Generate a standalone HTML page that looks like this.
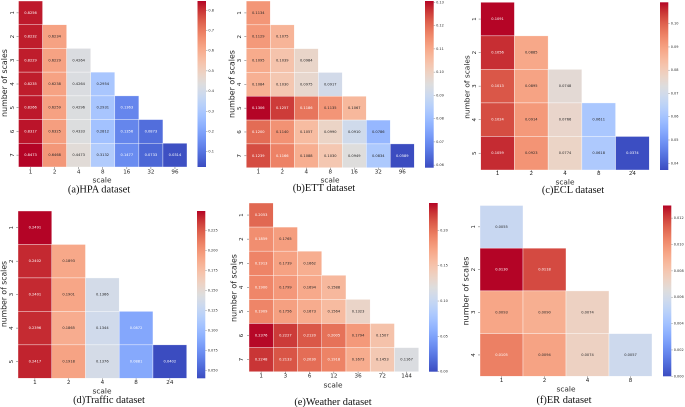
<!DOCTYPE html>
<html lang="en">
<head>
<meta charset="utf-8">
<title>Heatmaps of scale combinations</title>
<style>
html,body{margin:0;padding:0;width:685px;height:407px;overflow:hidden;background:#fff}
svg{display:block;filter:blur(0.3px)}
text{font-family:"DejaVu Sans","Liberation Sans",sans-serif}
.cap{font-family:"Liberation Serif",serif;fill:#111}
</style>
</head>
<body>
<svg id="fig" xmlns="http://www.w3.org/2000/svg" width="685" height="407" viewBox="0 0 685 407"></svg>
<script>
const hpaScales = ["1","2","4","8","16","32","96"];
const hpaRows = ["1","2","3","4","5","6","7"];
const hpaValues = [[0.8256],[0.8232,0.6234],[0.8229,0.6229,0.4264],[0.8235,0.6238,0.4264,0.2954],[0.8266,0.6259,0.4296,0.2931,0.1363],[0.8317,0.6325,0.4333,0.2812,0.1356,0.0873],[0.8473,0.6468,0.4473,0.3132,0.1477,0.0733,0.0314]];
const hpaTicks = [0.1,0.2,0.3,0.4,0.5,0.6,0.7,0.8];

const ettScales = ["1","2","4","8","16","32","96"];
const ettRows = ["1","2","3","4","5","6","7"];
const ettValues = [[0.1134],[0.1129,0.1075],[0.1095,0.1039,0.0984],[0.1084,0.1030,0.0975,0.0917],[0.1306,0.1257,0.1186,0.1135,0.1067],[0.1200,0.1140,0.1057,0.0990,0.0910,0.0786],[0.1239,0.1166,0.1088,0.1030,0.0949,0.0834,0.0589]];
const ettTicks = [0.06,0.07,0.08,0.09,0.10,0.11,0.12,0.13];

const eclScales = ["1","2","4","8","24"];
const eclRows = ["1","2","3","4","5"];
const eclValues = [[0.1091],[0.1056,0.0885],[0.1013,0.0895,0.0748],[0.1024,0.0914,0.0766,0.0611],[0.1059,0.0923,0.0774,0.0618,0.0374]];
const eclTicks = [0.04,0.05,0.06,0.07,0.08,0.09,0.10];

const trafficScales = ["1","2","4","8","24"];
const trafficRows = ["1","2","3","4","5"];
const trafficValues = [[0.2491],[0.2402,0.1893],[0.2401,0.1901,0.1366],[0.2396,0.1865,0.1344,0.0872],[0.2417,0.1918,0.1376,0.0881,0.0402]];
const trafficTicks = [0.050,0.075,0.100,0.125,0.150,0.175,0.200,0.225];

const weatherScales = ["1","3","6","12","36","72","144"];
const weatherRows = ["1","2","3","4","5","6","7"];
const weatherValues = [[0.2053],[0.1859,0.1765],[0.1913,0.1739,0.1662],[0.1900,0.1799,0.1694,0.1588],[0.1909,0.1756,0.1673,0.1564,0.1323],[0.2376,0.2227,0.2120,0.2005,0.1794,0.1507],[0.2248,0.2133,0.2030,0.1918,0.1673,0.1453,0.1167]];
const weatherTicks = [0.00,0.05,0.10,0.15,0.20];

const erScales = ["1","2","4","8"];
const erRows = ["1","2","3","4"];
const erValues = [[0.0055],[0.0130,0.0118],[0.0093,0.0090,0.0074],[0.0105,0.0094,0.0074,0.0057]];
const erTicks = [0.000,0.002,0.004,0.006,0.008,0.010,0.012];

const coolwarm = [[59,76,192],[68,90,204],[77,104,215],[87,117,225],[98,130,234],[108,142,241],[119,154,247],[130,165,251],[141,176,254],[152,185,255],[163,194,255],[174,201,253],[184,208,249],[194,213,244],[204,217,238],[213,219,230],[221,221,221],[229,216,209],[236,211,197],[241,204,185],[245,196,173],[247,187,160],[247,177,148],[247,166,135],[244,154,123],[241,141,111],[236,127,99],[229,112,88],[222,96,77],[213,77,66],[203,56,55],[192,32,45],[180,4,38]];

const panels = [
 {id:"hpa",caption:"(a)HPA dataset",scales:hpaScales,rows:hpaRows,values:hpaValues,ticks:hpaTicks,digits:1,vmin:0.024,vmax:0.846,
  box:[18.5,1,187,167],bar:[197.5,206],ylab:[4.5,83],ysize:7.9,ytick:13,xtick:172.5,xlab:[102,180],cap:[99,190]},
 {id:"ett",caption:"(b)ETT dataset",scales:ettScales,rows:ettRows,values:ettValues,ticks:ettTicks,digits:2,vmin:0.0589,vmax:0.1306,
  box:[246.3,1,414.3,167.7],bar:[425,433.7],ylab:[232,84],ysize:7.9,ytick:240,xtick:172.7,xlab:[330,180],cap:[324,188.5]},
 {id:"ecl",caption:"(c)ECL dataset",scales:eclScales,rows:eclRows,values:eclValues,ticks:eclTicks,digits:2,vmin:0.0371,vmax:0.1092,
  box:[480.7,2.3,649.3,170],bar:[660,668.3],ylab:[467,87],ysize:7.4,ytick:475,xtick:174,xlab:[565,182],cap:[573,190.5]},
 {id:"traffic",caption:"(d)Traffic dataset",scales:trafficScales,rows:trafficRows,values:trafficValues,ticks:trafficTicks,digits:3,vmin:0.0402,vmax:0.2491,
  box:[18,211,186.7,378.3],bar:[197,205.3],ylab:[4,294],ysize:7.7,ytick:12,xtick:383,xlab:[102,391],cap:[109,400.5]},
 {id:"weather",caption:"(e)Weather dataset",scales:weatherScales,rows:weatherRows,values:weatherValues,ticks:weatherTicks,digits:2,vmin:0,vmax:0.2387,
  box:[249,203,418.7,371.7],bar:[429,437.7],ylab:[234,288],ysize:7.9,ytick:242,xtick:376.5,xlab:[333,385],cap:[333,402.5]},
 {id:"er",caption:"(f)ER dataset",scales:erScales,rows:erRows,values:erValues,ticks:erTicks,digits:3,vmin:0,vmax:0.01296,
  box:[480,205.5,652,376.3],bar:[663,671.3],ylab:[466,291],ysize:8,ytick:474,xtick:381,xlab:[566,389],cap:[564,400.5]}
];

const NS = "http://www.w3.org/2000/svg";
const svg = document.getElementById("fig");

function mk(tag, attrs, parent){
  const e = document.createElementNS(NS, tag);
  for (const k in attrs) e.setAttribute(k, attrs[k]);
  parent.appendChild(e);
  return e;
}
function colorAt(t){
  const n = coolwarm.length - 1;
  const p = Math.max(0, Math.min(1, t)) * n;
  const i = Math.min(n - 1, Math.floor(p));
  const f = p - i;
  return coolwarm[i].map((c, k) => c + (coolwarm[i + 1][k] - c) * f);
}
function rgb(c){ return "rgb(" + c.map(v => Math.round(v)).join(",") + ")"; }
function lum(c){
  const l = c.map(v => { v /= 255; return v <= 0.03928 ? v / 12.92 : Math.pow((v + 0.055) / 1.055, 2.4); });
  return 0.2126 * l[0] + 0.7152 * l[1] + 0.0722 * l[2];
}
function label(parent, str, x, y, size, fill, rot){
  const t = mk("text", {x:x, y:y, "font-size":size, fill:fill, "text-anchor":"middle", "dominant-baseline":"central"}, parent);
  if (rot) t.setAttribute("transform", "rotate(-90 " + x + " " + y + ")");
  t.textContent = str;
  return t;
}

const defs = mk("defs", {}, svg);

panels.forEach(p => {
  const [x0, y0, x1, y1] = p.box;
  const xScale = i => x0 + i * (x1 - x0) / p.scales.length;
  const yScale = j => y0 + j * (y1 - y0) / p.rows.length;
  const norm = v => (v - p.vmin) / (p.vmax - p.vmin);
  const barY = v => y1 - norm(v) * (y1 - y0);

  const g = mk("g", {}, svg);
  
  

  p.values.forEach((row, j) => {
    row.forEach((v, i) => {
      const c = colorAt(norm(v));
      const cell = mk("rect", {x:xScale(i), y:yScale(j), width:xScale(i + 1) - xScale(i), height:yScale(j + 1) - yScale(j), fill:rgb(c), stroke:"#fff", "stroke-opacity":0.75, "stroke-width":0.5}, g);
      
      
      const txt = label(g, v.toFixed(4), (xScale(i) + xScale(i + 1)) / 2, (yScale(j) + yScale(j + 1)) / 2, 3.6, lum(c) < 0.408 ? "#fff" : "#262626");
      
      
    });
  });

  p.scales.forEach((s, i) => {
    const cx = (xScale(i) + xScale(i + 1)) / 2;
    const tick = mk("line", {x1:cx, x2:cx, y1:y1, y2:y1 + 2, stroke:"#333", "stroke-width":0.4}, g);
    
    
    const t = label(g, s, cx, p.xtick, 5.6, "#262626");
    
    
  });
  p.rows.forEach((s, j) => {
    const cy = (yScale(j) + yScale(j + 1)) / 2;
    const tick = mk("line", {x1:x0 - 2, x2:x0, y1:cy, y2:cy, stroke:"#333", "stroke-width":0.4}, g);
    
    
    const t = label(g, s, p.ytick, cy, 5.6, "#262626", true);
    
    
  });

  const yTitle = label(g, "number of scales", p.ylab[0], p.ylab[1], p.ysize, "#262626", true);
  
  
  const xTitle = label(g, "scale", p.xlab[0], p.xlab[1], 7.4, "#262626");
  
  
  const cap = label(g, p.caption, p.cap[0], p.cap[1], 10.4, "#111");
  cap.setAttribute("class", "cap");
  
  

  const grad = mk("linearGradient", {id:"grad-" + p.id, x1:0, y1:1, x2:0, y2:0}, defs);
  coolwarm.forEach((c, k) => {
    mk("stop", {offset:k / (coolwarm.length - 1), "stop-color":rgb(c)}, grad);
  });
  const bar = mk("rect", {x:p.bar[0], y:y0, width:p.bar[1] - p.bar[0], height:y1 - y0, fill:"url(#grad-" + p.id + ")"}, g);
  
  
  p.ticks.forEach(v => {
    const y = barY(v);
    const tick = mk("line", {x1:p.bar[1], x2:p.bar[1] + 1.5, y1:y, y2:y, stroke:"#333", "stroke-width":0.3}, g);
    
    
    const t = label(g, v.toFixed(p.digits), 0, y, 3.5, "#262626");
    t.setAttribute("x", p.bar[1] + 2.4);
    t.setAttribute("text-anchor", "start");
    
    
  });
});
</script>
</body>
</html>
